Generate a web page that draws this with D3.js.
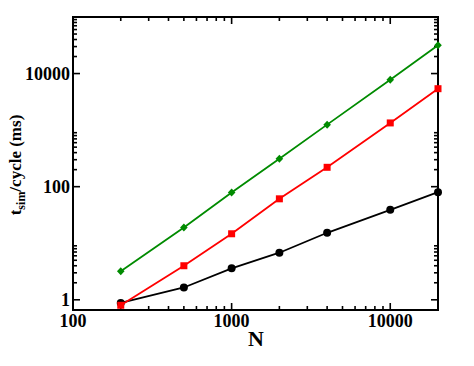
<!DOCTYPE html>
<html><head><meta charset="utf-8">
<script src="https://cdn.jsdelivr.net/npm/d3@7"></script>
<style>body{margin:0;background:#fff}svg{display:block}</style>
</head><body>
<script>
const N = [200, 500, 1000, 2000, 4000, 10000, 20000];
const blackSeries = [0.88, 1.65, 3.6, 6.8, 15.3, 39, 80];
const redSeries = [0.8, 4.0, 14.7, 61, 220, 1340, 5400];
const greenSeries = [3.2, 19, 79, 313, 1250, 7800, 31700];
const xMajor = [100, 1000, 10000];
const xMinor = [200,300,400,500,600,700,800,900,2000,3000,4000,5000,6000,7000,8000,9000,20000];
const yMajor = [1, 100, 10000];
const yMinor = [2,3,4,5,6,7,8,9,200,300,400,500,600,700,800,900,20000,30000,40000,50000,60000,70000,80000,90000];
const xLabels = ["100", "1000", "10000"];
const yLabels = ["1", "100", "10000"];

const W = 474, H = 366;
const L = 73, R = 438, T = 17, B = 310;
const svg = d3.select("body").append("svg").attr("width", W).attr("height", H);
const x = d3.scaleLog().domain([100, 20000]).range([L, R]);
const y = d3.scaleLog().domain([0.66, 100000]).range([B, T]);
const font = "'Liberation Serif','Times New Roman',serif";

const majLen = 7, minLen = 4;
const g = svg.append("g").attr("stroke", "#000").attr("stroke-width", 1.6);
// bottom & top ticks
xMajor.concat(xMinor).forEach(v => {
  const len = xMajor.includes(v) ? majLen : minLen;
  const px = x(v);
  g.append("line").attr("x1", px).attr("x2", px).attr("y1", B).attr("y2", B - len);
  g.append("line").attr("x1", px).attr("x2", px).attr("y1", T).attr("y2", T + len);
});
yMajor.concat(yMinor).forEach(v => {
  const len = yMajor.includes(v) ? majLen : minLen;
  const py = y(v);
  g.append("line").attr("y1", py).attr("y2", py).attr("x1", L).attr("x2", L + len);
  g.append("line").attr("y1", py).attr("y2", py).attr("x1", R).attr("x2", R - len);
});
svg.append("rect").attr("x", L).attr("y", T).attr("width", R - L).attr("height", B - T)
  .attr("fill", "none").attr("stroke", "#000").attr("stroke-width", 2);

// tick labels
svg.selectAll(".xl").data(xMajor).enter().append("text")
  .attr("x", d => x(d)).attr("y", 327).attr("text-anchor", "middle")
  .attr("font-family", font).attr("font-weight", "bold").attr("font-size", 18)
  .text((d, i) => xLabels[i]);
svg.selectAll(".yl").data(yMajor).enter().append("text")
  .attr("x", 70).attr("y", d => y(d) + 6).attr("text-anchor", "end")
  .attr("font-family", font).attr("font-weight", "bold").attr("font-size", 18)
  .text((d, i) => yLabels[i]);

// axis titles
svg.append("text").attr("x", 256).attr("y", 346).attr("text-anchor", "middle")
  .attr("font-family", font).attr("font-weight", "bold").attr("font-size", 22).text("N");
const yt = svg.append("text").attr("transform", "translate(21,165) rotate(-90)")
  .attr("text-anchor", "middle").attr("font-family", font).attr("font-weight", "bold").attr("font-size", 17);
yt.append("tspan").text("t");
yt.append("tspan").attr("font-size", 12).attr("dy", 4).text("sim");
yt.append("tspan").attr("dy", -4).text("/cycle (ms)");

const line = d3.line().x((d, i) => x(N[i])).y(d => y(d));
function series(vals, color, shape) {
  svg.append("path").datum(vals).attr("d", line).attr("fill", "none")
    .attr("stroke", color).attr("stroke-width", 1.8);
  const gg = svg.append("g");
  vals.forEach((v, i) => {
    const cx = x(N[i]), cy = y(v);
    if (shape === "circle") gg.append("circle").attr("cx", cx).attr("cy", cy).attr("r", 4).attr("fill", color);
    else if (shape === "square") gg.append("rect").attr("x", cx - 3.5).attr("y", cy - 3.5).attr("width", 7).attr("height", 7).attr("fill", color);
    else gg.append("path").attr("d", `M${cx},${cy-4}L${cx+3.8},${cy}L${cx},${cy+4}L${cx-3.8},${cy}Z`).attr("fill", color);
  });
}
series(blackSeries, "#000", "circle");
series(redSeries, "#ff0000", "square");
series(greenSeries, "#008b00", "diamond");
</script>
</body></html>
